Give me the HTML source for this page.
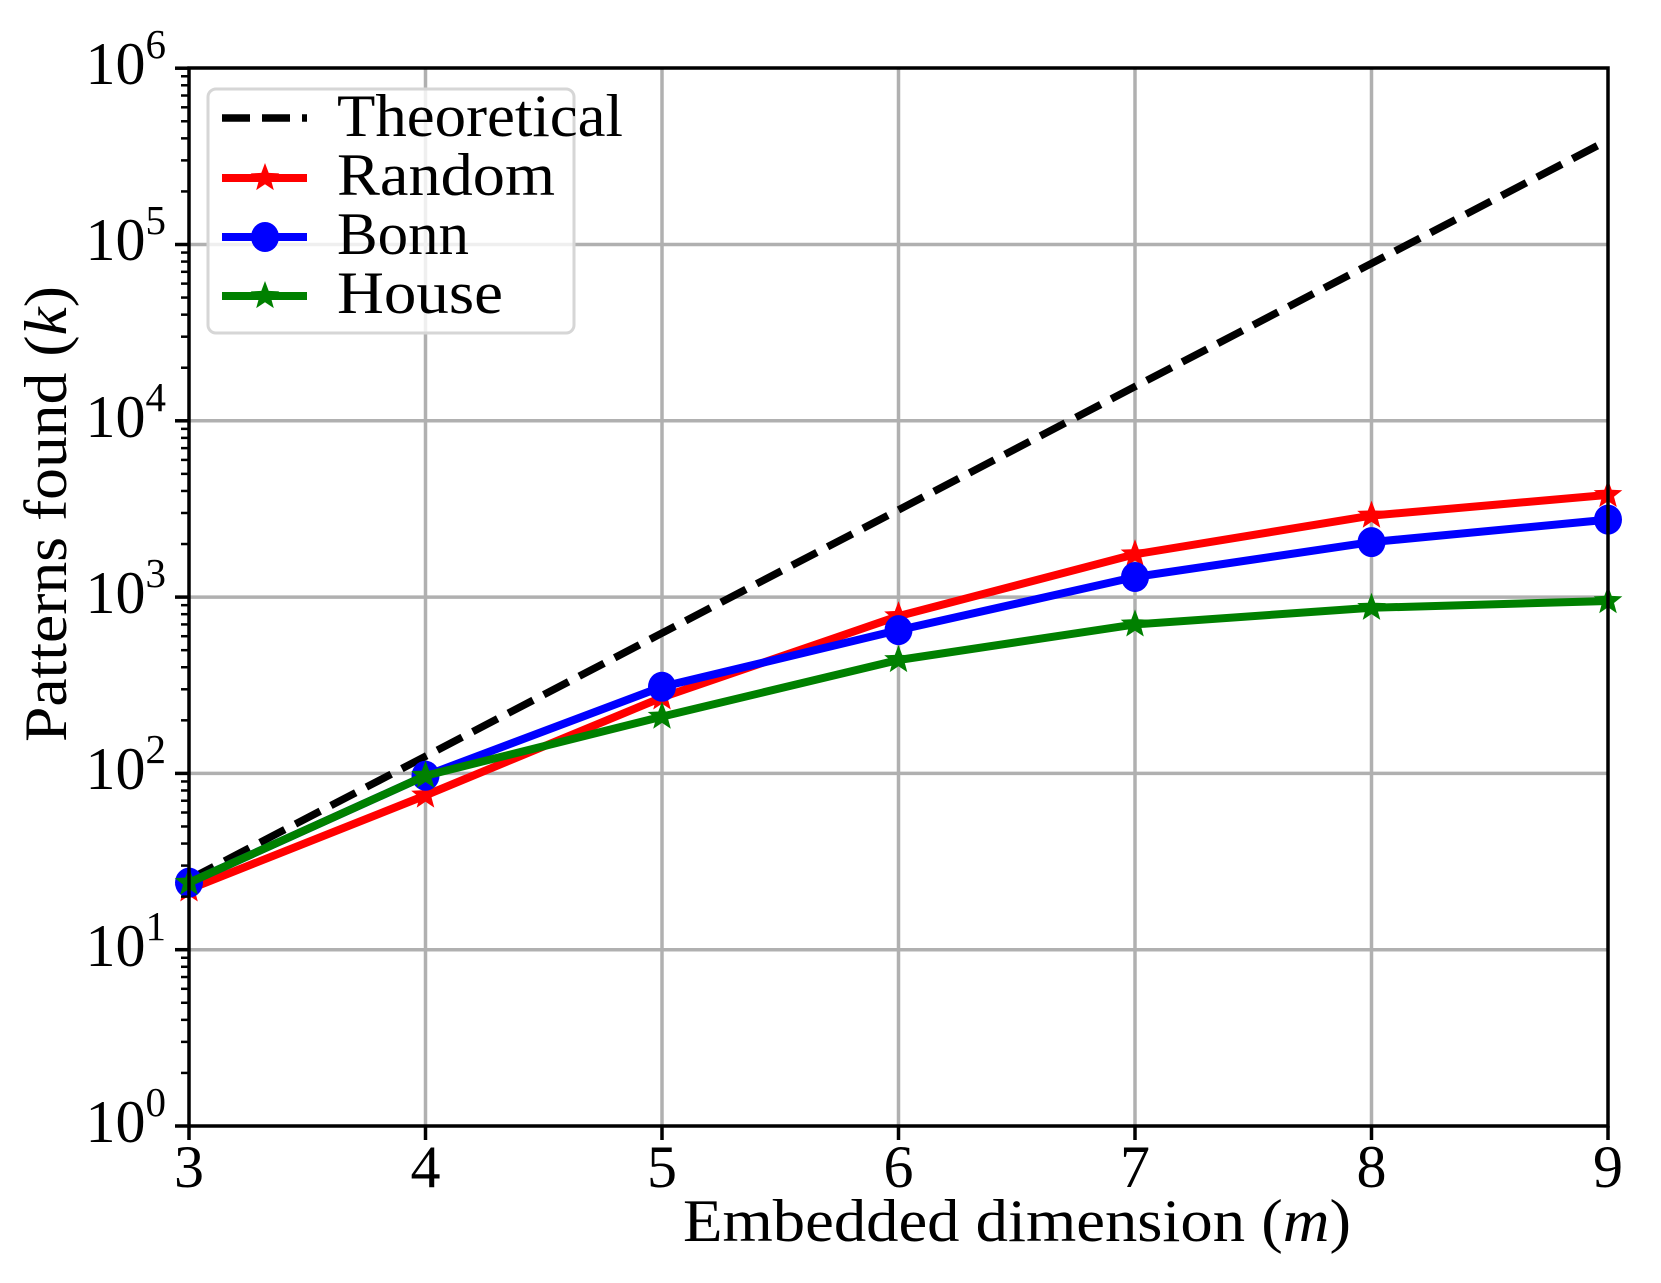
<!DOCTYPE html>
<html><head><meta charset="utf-8"><style>
html,body{margin:0;padding:0;background:#fff;}
svg{display:block;}
text{font-family:"Liberation Serif",serif;fill:#000;}
</style></head><body>
<svg id="s" width="1661" height="1283" viewBox="0 0 1661 1283" xmlns="http://www.w3.org/2000/svg">
<rect width="1661" height="1283" fill="#fff"/>
<g id="grid" stroke="#b0b0b0" stroke-width="3.5"></g>
<g id="series"></g>
<rect x="189" y="68" width="1419" height="1058" fill="none" stroke="#000" stroke-width="3.5"/>
<g id="ticks" stroke="#000"></g>
<g font-size="60" text-anchor="middle">
<text x="189" y="1187">3</text><text x="425.5" y="1187">4</text><text x="662" y="1187">5</text>
<text x="898.5" y="1187">6</text><text x="1135" y="1187">7</text><text x="1371.5" y="1187">8</text><text x="1608" y="1187">9</text>
</g>
<g font-size="60" text-anchor="end">
<text x="166" y="1142">10<tspan font-size="41" dy="-26">0</tspan></text>
<text x="166" y="966">10<tspan font-size="41" dy="-26">1</tspan></text>
<text x="166" y="789">10<tspan font-size="41" dy="-26">2</tspan></text>
<text x="166" y="613">10<tspan font-size="41" dy="-26">3</tspan></text>
<text x="166" y="437">10<tspan font-size="41" dy="-26">4</tspan></text>
<text x="166" y="260">10<tspan font-size="41" dy="-26">5</tspan></text>
<text x="166" y="84">10<tspan font-size="41" dy="-26">6</tspan></text>
</g>
<text x="683" y="1241" font-size="60" textLength="668" lengthAdjust="spacingAndGlyphs">Embedded dimension (<tspan font-style="italic">m</tspan>)</text>
<text transform="translate(66,742) rotate(-90)" font-size="60" textLength="456" lengthAdjust="spacingAndGlyphs">Patterns found (<tspan font-style="italic">k</tspan>)</text>
<rect x="208" y="89" width="366" height="244" rx="8" fill="#fff" fill-opacity="0.8" stroke="#d6d6d6" stroke-width="3"/>
<g id="leg"></g>
<g font-size="60">
<text x="337" y="136" textLength="286" lengthAdjust="spacingAndGlyphs">Theoretical</text>
<text x="337" y="195" textLength="218" lengthAdjust="spacingAndGlyphs">Random</text>
<text x="337" y="254" textLength="132" lengthAdjust="spacingAndGlyphs">Bonn</text>
<text x="337" y="313" textLength="166" lengthAdjust="spacingAndGlyphs">House</text>
</g>
</svg>
<script>
var NS="http://www.w3.org/2000/svg";
function el(p,t,a){var e=document.createElementNS(NS,t);for(var k in a)e.setAttribute(k,a[k]);document.getElementById(p).appendChild(e);return e;}
var X=[189,425.5,662,898.5,1135,1371.5,1608];
function Y(v){return 1126-176.3*Math.log10(v);}
for(var i=1;i<6;i++)el("grid","line",{x1:X[i],x2:X[i],y1:68,y2:1126});
for(var d=1;d<6;d++){var y=1126-176.3*d;el("grid","line",{x1:189,x2:1608,y1:y,y2:y});}
for(var i=0;i<7;i++)el("ticks","line",{x1:X[i],x2:X[i],y1:1126,y2:1140,"stroke-width":3.5});
for(var d=0;d<=6;d++){var y=1126-176.3*d;el("ticks","line",{x1:175,x2:189,y1:y,y2:y,"stroke-width":3.5});
 if(d<6)for(var k=2;k<10;k++){var yy=1126-176.3*(d+Math.log10(k));el("ticks","line",{x1:181,x2:189,y1:yy,y2:yy,"stroke-width":2.5});}}
function star(cx,cy,r){var s="";for(var i=0;i<10;i++){var a=-Math.PI/2+i*Math.PI/5,rr=i%2?r*0.42:r;s+=(i?"L":"M")+(cx+rr*Math.cos(a)).toFixed(1)+","+(cy+rr*Math.sin(a)).toFixed(1);}return s+"Z";}
var data=[
 {c:"#ff0000",v:[22,75,270,780,1750,2900,3800],m:"star"},
 {c:"#0000ff",v:[24,97,310,650,1300,2050,2750],m:"circ"},
 {c:"#008000",v:[24,97,210,440,700,870,950],m:"star"}];
var th=[];for(var i=0;i<7;i++)th.push(X[i]+","+Y(Math.pow(5,i+2)).toFixed(1));
el("series","polyline",{points:th.join(" "),fill:"none",stroke:"#000","stroke-width":7.5,"stroke-dasharray":"28,12"});
data.forEach(function(s){var p=[];for(var i=0;i<7;i++)p.push(X[i]+","+Y(s.v[i]).toFixed(1));
 el("series","polyline",{points:p.join(" "),fill:"none",stroke:s.c,"stroke-width":8,"stroke-linejoin":"round"});
 for(var i=0;i<7;i++){var y=Y(s.v[i]);if(s.m=="circ")el("series","ellipse",{cx:X[i],cy:y,rx:14,ry:15,fill:s.c});else el("series","path",{d:star(X[i],y,15),fill:s.c});}});
el("leg","line",{x1:222,x2:307,y1:118,y2:118,stroke:"#000","stroke-width":7.5,"stroke-dasharray":"28,12"});
var ly=[178,237,296];
data.forEach(function(s,i){el("leg","line",{x1:222,x2:307,y1:ly[i],y2:ly[i],stroke:s.c,"stroke-width":8});
 if(s.m=="circ")el("leg","ellipse",{cx:265,cy:ly[i],rx:14,ry:15,fill:s.c});else el("leg","path",{d:star(265,ly[i],15),fill:s.c});});
</script>
</body></html>
